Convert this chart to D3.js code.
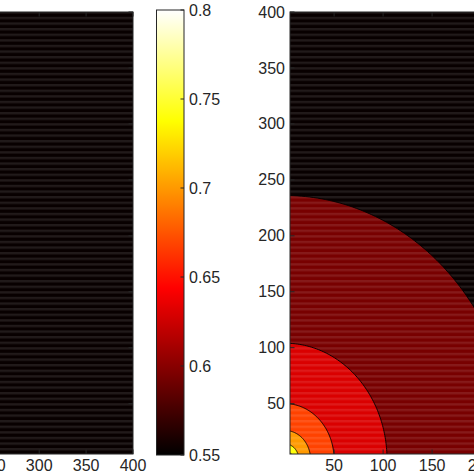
<!DOCTYPE html>
<html><head><meta charset="utf-8">
<script src="https://cdn.jsdelivr.net/npm/d3@7"></script>
<style>html,body{margin:0;padding:0;background:#fff;} svg{display:block;font-family:"Liberation Sans",Arial,sans-serif;}</style>
</head><body><svg id="c" width="474" height="474"></svg>
<script>
// ---- data ----
const xTicks = [50, 100, 150, 200, 250, 300, 350, 400];
const yTicks = [50, 100, 150, 200, 250, 300, 350, 400];
const cbTicks = [0.55, 0.6, 0.65, 0.7, 0.75, 0.8];
const contourRadii  = [236, 104, 50, 26, 14, 8];
const contourLevels = [0.594, 0.630, 0.668, 0.700, 0.740, 0.775];
const baseLevel = 0.553;
const leftBaseLevel = 0.553;
const axisDomain = [5, 400];
const colorDomain = [0.55, 0.8];

// ---- helpers ----
function hot(t) {
  t = Math.max(0, Math.min(1, t));
  const r = Math.min(1, t / 0.375);
  const g = Math.max(0, Math.min(1, (t - 0.375) / 0.375));
  const b = Math.max(0, Math.min(1, (t - 0.75) / 0.25));
  return d3.rgb(r * 255, g * 255, b * 255);
}
const cNorm = d3.scaleLinear().domain(colorDomain).range([0, 1]).clamp(true);
const color = v => hot(cNorm(v)).formatHex();
const axisCol = "#262626";
const fmt = d3.format("~g");
const W = 474;

const svg = d3.select("#c");
const defs = svg.append("defs");
const pat = defs.append("pattern").attr("id", "stripes").attr("patternUnits", "userSpaceOnUse")
  .attr("width", 10).attr("height", 5.6);
pat.append("rect").attr("x", 0).attr("y", 0).attr("width", 10).attr("height", 2.4)
  .attr("fill", "rgba(255,255,255,0.1)");

function panel(id, xs, ys, base, radii, levels) {
  const [x0, x1] = xs.range(), [y0, y1] = ys.range();
  const w = x1 - x0, h = y0 - y1;
  defs.append("clipPath").attr("id", id).append("rect").attr("x", x0).attr("y", y1).attr("width", w).attr("height", h);
  const g = svg.append("g").attr("clip-path", `url(#${id})`);
  g.append("rect").attr("x", x0).attr("y", y1).attr("width", w).attr("height", h).attr("fill", color(base));
  const angles = d3.range(0, 91).map(a => a * Math.PI / 180);
  const arcPts = r => angles.map(a => [xs(r * Math.cos(a)), ys(r * Math.sin(a))]);
  radii.forEach((r, i) => {
    const pts = [[xs(0), ys(0)], ...arcPts(r)];
    g.append("path").attr("d", d3.line()(pts) + "Z").attr("fill", color(levels[i]));
  });
  g.append("rect").attr("x", x0).attr("y", y1).attr("width", w).attr("height", h).attr("fill", "url(#stripes)");
  radii.forEach(r => {
    g.append("path").attr("d", d3.line()(arcPts(r))).attr("fill", "none")
      .attr("stroke", "#000").attr("stroke-width", 0.9);
  });
  // box
  svg.append("rect").attr("x", x0).attr("y", y1).attr("width", w).attr("height", h)
    .attr("fill", "none").attr("stroke", axisCol).attr("stroke-width", 1);
  const tl = 4.5;
  const ax = svg.append("g").attr("stroke", axisCol).attr("stroke-width", 1);
  xTicks.filter(t => t >= xs.domain()[0] && t <= xs.domain()[1]).forEach(t => {
    const X = xs(t);
    ax.append("line").attr("x1", X).attr("x2", X).attr("y1", y0).attr("y2", y0 - tl);
    ax.append("line").attr("x1", X).attr("x2", X).attr("y1", y1).attr("y2", y1 + tl);
    if (X > -14 && X < W + 14) svg.append("text").attr("x", X).attr("y", y0 + 6).attr("dy", "0.71em")
      .attr("text-anchor", "middle").attr("font-size", 16).attr("fill", axisCol).text(fmt(t));
  });
  yTicks.filter(t => t >= ys.domain()[0] && t <= ys.domain()[1]).forEach(t => {
    const Y = ys(t);
    ax.append("line").attr("x1", x0).attr("x2", x0 + tl).attr("y1", Y).attr("y2", Y);
    ax.append("line").attr("x1", x1).attr("x2", x1 - tl).attr("y1", Y).attr("y2", Y);
    if (x0 - 5 > 0) svg.append("text").attr("x", x0 - 5).attr("y", Y).attr("dy", "0.35em")
      .attr("text-anchor", "end").attr("font-size", 16).attr("fill", axisCol).text(fmt(t));
  });
}

// left panel (cropped): 400 at x=133, ~0.938 px per unit
const xL = d3.scaleLinear().domain(axisDomain).range([133 - 395 * 0.938, 133]);
const yL = d3.scaleLinear().domain(axisDomain).range([454, 12]);
panel("clipL", xL, yL, leftBaseLevel, [], []);

// right panel
const xR = d3.scaleLinear().domain(axisDomain).range([290, 290 + 395 * 0.98]);
const yR = d3.scaleLinear().domain(axisDomain).range([454, 12]);
panel("clipR", xR, yR, baseLevel, contourRadii, contourLevels);

// colorbar
const cbX = 156.5, cbW = 27.5;
const cbY = d3.scaleLinear().domain(colorDomain).range([455, 10]);
const grad = defs.append("linearGradient").attr("id", "cbg").attr("x1", 0).attr("y1", 1).attr("x2", 0).attr("y2", 0);
d3.range(0, 65).forEach(i => {
  grad.append("stop").attr("offset", i / 64).attr("stop-color", hot(i / 64).formatHex());
});
svg.append("rect").attr("x", cbX).attr("y", cbY(0.8)).attr("width", cbW).attr("height", cbY(0.55) - cbY(0.8))
  .attr("fill", "url(#cbg)").attr("stroke", axisCol).attr("stroke-width", 1);
cbTicks.forEach(t => {
  const Y = cbY(t);
  svg.append("line").attr("x1", cbX + cbW).attr("x2", cbX + cbW - 3.5).attr("y1", Y).attr("y2", Y)
    .attr("stroke", axisCol).attr("stroke-width", 1);
  svg.append("text").attr("x", cbX + cbW + 5).attr("y", Y).attr("dy", "0.35em")
    .attr("font-size", 16).attr("fill", axisCol).text(fmt(t));
});
</script></body></html>
